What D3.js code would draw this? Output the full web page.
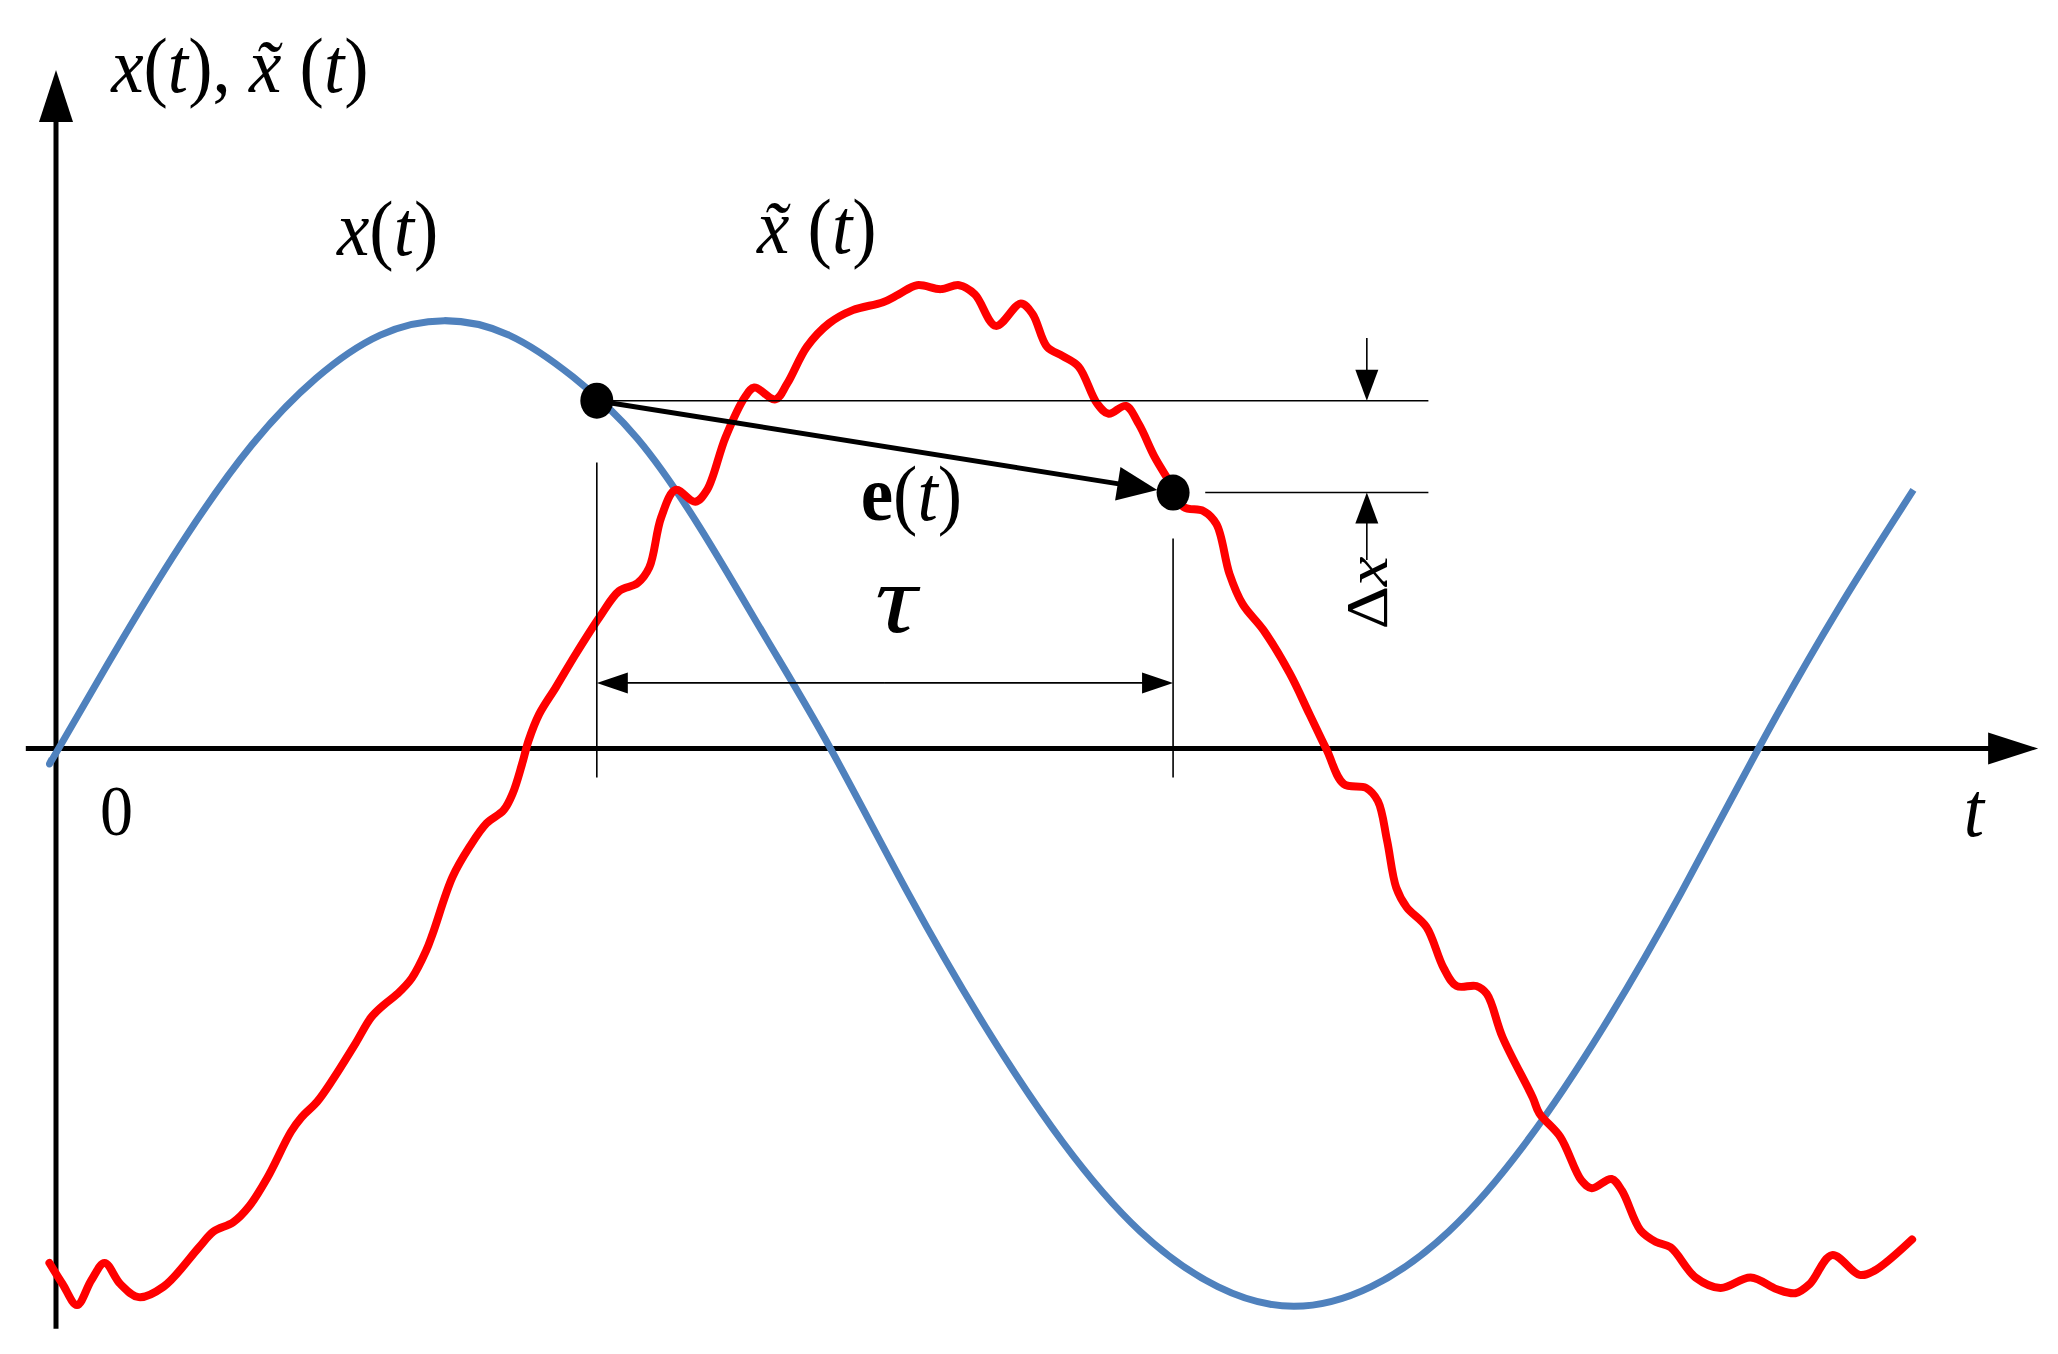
<!DOCTYPE html>
<html lang="en">
<head>
    <meta charset="UTF-8">
    <title>x(t) and its delayed noisy copy</title>
    <script src="https://d3js.org/d3.v7.min.js"></script>
    <style>
        body { margin: 0; background: #ffffff; }
        svg { display: block; }
        .label { font-family: 'Liberation Serif', 'Times New Roman', serif; fill: #000; }
        .thin { stroke: #000; stroke-width: 1.6px; fill: none; }
    </style>
</head>
<body>
    <div id="chart"></div>
    <script>
        // x(t): the clean signal
        const blueT = [-0.03, 0.02, 0.51, 1.00, 1.49, 1.98, 2.47, 2.96, 3.45, 3.94, 4.43, 4.92, 5.41, 5.90,
            6.49, 7.08, 7.67, 8.26, 8.85, 9.43, 10.02, 10.61, 11.20, 11.79, 12.38, 12.97, 13.57, 14.15];
        const blueX = [-0.08, 0.00, 0.84, 1.63, 2.31, 2.82, 3.15, 3.26, 3.15, 2.83, 2.36, 1.66, 0.84, 0.00,
            -1.10, -2.12, -3.00, -3.68, -4.10, -4.25, -4.10, -3.68, -3.00, -2.12, -1.10, 0.00, 1.05, 1.97];

        // x~(t): delayed, noisy estimate
        const redT = [-0.05, 0.05, 0.16, 0.27, 0.37, 0.49, 0.63, 0.82, 1.09, 1.20, 1.35, 1.47, 1.61, 1.79, 1.87, 1.99,
            2.11, 2.28, 2.40, 2.49, 2.60, 2.71, 2.82, 2.87, 3.02, 3.15, 3.28, 3.41, 3.48, 3.55, 3.60, 3.68,
            3.81, 3.96, 4.14, 4.29, 4.43, 4.52, 4.61, 4.72, 4.87, 4.96, 5.10, 5.25, 5.32, 5.48, 5.57, 5.72,
            5.89, 6.07, 6.30, 6.42, 6.56, 6.74, 6.88, 7.00, 7.16, 7.35, 7.44, 7.55, 7.67, 7.79, 7.93, 8.02,
            8.15, 8.25, 8.37, 8.49, 8.59, 8.74, 8.84, 8.94, 9.04, 9.20, 9.40, 9.55, 9.68, 9.81, 9.98, 10.07,
            10.14, 10.21, 10.29, 10.44, 10.57, 10.67, 10.82, 10.90, 11.02, 11.25, 11.30, 11.46, 11.62, 11.70, 11.85, 11.93,
            12.07, 12.19, 12.30, 12.49, 12.68, 12.91, 13.11, 13.25, 13.36, 13.53, 13.74, 13.85, 14.14];
        const redX = [-3.92, -4.08, -4.24, -4.05, -3.92, -4.08, -4.18, -4.10, -3.80, -3.68, -3.61, -3.49, -3.27, -2.92, -2.81, -2.69,
            -2.52, -2.25, -2.05, -1.96, -1.87, -1.75, -1.54, -1.41, -0.98, -0.75, -0.57, -0.47, -0.34, -0.12, 0.06, 0.26,
            0.47, 0.72, 1.00, 1.20, 1.26, 1.38, 1.76, 1.97, 1.88, 1.97, 2.37, 2.68, 2.75, 2.66, 2.78, 3.06,
            3.24, 3.34, 3.40, 3.46, 3.53, 3.50, 3.53, 3.46, 3.22, 3.39, 3.31, 3.06, 2.99, 2.91, 2.63, 2.55,
            2.61, 2.47, 2.22, 2.02, 1.84, 1.81, 1.71, 1.33, 1.10, 0.90, 0.57, 0.26, -0.01, -0.27, -0.30, -0.40,
            -0.70, -1.06, -1.21, -1.36, -1.67, -1.81, -1.81, -1.87, -2.20, -2.66, -2.78, -2.96, -3.29, -3.35, -3.28, -3.37,
            -3.67, -3.76, -3.80, -4.03, -4.11, -4.03, -4.12, -4.15, -4.08, -3.86, -4.01, -3.98, -3.74];

        // the two marked points: x(t) and x~(t + tau)
        const markT = [4.12, 8.51];
        const markX = [2.65, 1.95];

        const width = 2058, height = 1354;
        const svg = d3.select("#chart").append("svg")
            .attr("width", width)
            .attr("height", height);

        const x = d3.scaleLinear().domain([0, 15]).range([56, 2025]);
        const y = d3.scaleLinear().domain([-4.4, 5.2]).range([1326, 66]);

        // draws a line ending in a filled triangular head at (x2, y2)
        function arrow(g, x1, y1, x2, y2, w, len, half) {
            const dx = x2 - x1, dy = y2 - y1, L = Math.hypot(dx, dy);
            const ux = dx / L, uy = dy / L;
            const bx = x2 - ux * len, by = y2 - uy * len;
            g.append("line")
                .attr("x1", x1).attr("y1", y1)
                .attr("x2", bx + ux).attr("y2", by + uy)
                .attr("stroke", "#000").attr("stroke-width", w);
            g.append("path")
                .attr("d", `M${x2},${y2}L${bx - uy * half},${by + ux * half}L${bx + uy * half},${by - ux * half}Z`)
                .attr("fill", "#000");
        }

        // axes
        const axes = svg.append("g");
        arrow(axes, x(0), y(-4.42), x(0), y(5.17), 5, 52, 17);
        arrow(axes, x(-0.23), y(0), x(15.1), y(0), 5, 50, 16);

        // curves
        const smooth = d3.line()
            .x(d => x(d[0]))
            .y(d => y(d[1]))
            .curve(d3.curveNatural);
        const wiggly = d3.line()
            .x(d => x(d[0]))
            .y(d => y(d[1]))
            .curve(d3.curveCatmullRom.alpha(0.5));

        svg.append("path")
            .datum(blueT.map((t, i) => [t, blueX[i]]))
            .attr("d", smooth)
            .attr("fill", "none")
            .attr("stroke", "#4F81BD")
            .attr("stroke-width", 7);

        svg.append("path")
            .datum(redT.map((t, i) => [t, redX[i]]))
            .attr("d", wiggly)
            .attr("fill", "none")
            .attr("stroke", "#FF0000")
            .attr("stroke-width", 8)
            .attr("stroke-linejoin", "round")
            .attr("stroke-linecap", "round");

        // guide lines
        const guides = svg.append("g").attr("class", "thin");
        const hEnd = 10.455;
        guides.append("line").attr("x1", x(markT[0])).attr("x2", x(hEnd))
            .attr("y1", y(markX[0])).attr("y2", y(markX[0]));
        guides.append("line").attr("x1", x(8.755)).attr("x2", x(hEnd))
            .attr("y1", y(markX[1])).attr("y2", y(markX[1]));
        guides.append("line").attr("x1", x(markT[0])).attr("x2", x(markT[0]))
            .attr("y1", y(2.18)).attr("y2", y(-0.22));
        guides.append("line").attr("x1", x(markT[1])).attr("x2", x(markT[1]))
            .attr("y1", y(1.60)).attr("y2", y(-0.22));

        // tau span
        const ann = svg.append("g");
        const tauY = y(0.50), tauMid = (x(markT[0]) + x(markT[1])) / 2;
        arrow(ann, tauMid, tauY, x(markT[0]), tauY, 1.6, 31, 10.5);
        arrow(ann, tauMid, tauY, x(markT[1]), tauY, 1.6, 31, 10.5);

        // delta x arrows
        const dxT = 9.986;
        arrow(ann, x(dxT), y(3.128), x(dxT), y(markX[0]), 1.6, 31, 11.5);
        arrow(ann, x(dxT), y(1.436), x(dxT), y(markX[1]), 1.6, 31, 11.5);

        // e(t) vector
        {
            const ax = x(markT[0]), ay = y(markX[0]), bx = x(markT[1]), by = y(markX[1]);
            const L = Math.hypot(bx - ax, by - ay);
            const tx = bx - (bx - ax) / L * 16, ty = by - (by - ay) / L * 16;
            arrow(ann, ax, ay, tx, ty, 5, 40, 17);
        }

        svg.selectAll(".mark")
            .data(markT.map((t, i) => [t, markX[i]]))
            .enter().append("ellipse")
            .attr("class", "mark")
            .attr("cx", d => x(d[0]))
            .attr("cy", d => y(d[1]))
            .attr("rx", 16.5)
            .attr("ry", 18)
            .attr("fill", "#000");

        // labels; the source glyphs are a little taller than wide
        function label(t, v, size, parts, anchor, sx) {
            const g = svg.append("g")
                .attr("transform", `translate(${x(t)},${y(v)}) scale(${sx || 1},1.08)`);
            const txt = g.append("text").attr("class", "label")
                .style("font-size", size + "px")
                .attr("text-anchor", anchor || "start");
            parts.forEach(p => {
                const s = txt.append("tspan").text(p.s);
                if (p.i) s.style("font-style", "italic");
                if (p.b) s.style("font-weight", "bold");
            });
            return g;
        }

        const xTilde = { s: "x\u0303\u00A0", i: true };

        label(0.42, 5.0, 73, [
            { s: "x", i: true }, { s: "(" }, { s: "t", i: true }, { s: "),\u00A0" },
            xTilde, { s: "(" }, { s: "t", i: true }, { s: ")" }
        ]);
        label(2.14, 3.76, 73, [{ s: "x", i: true }, { s: "(" }, { s: "t", i: true }, { s: ")" }]);
        label(5.34, 3.775, 73, [xTilde, { s: "(" }, { s: "t", i: true }, { s: ")" }]);
        label(6.13, 1.74, 73, [{ s: "e", b: true }, { s: "(" }, { s: "t", i: true }, { s: ")" }]);
        label(6.24, 0.89, 90, [{ s: "\u03C4", i: true }], "start", 1.3);
        label(0.46, -0.66, 66, [{ s: "0" }], "middle");
        label(14.61, -0.67, 73, [{ s: "t", i: true }], "middle");

        svg.append("text").attr("class", "label")
            .attr("transform", `translate(${x(10.14)},${y(1.186)}) rotate(-90) scale(1.12,1)`)
            .attr("text-anchor", "middle")
            .style("font-size", "60px")
            .call(t => {
                t.append("tspan").text("\u0394");
                t.append("tspan").style("font-style", "italic").text("x");
            });
    </script>
</body>
</html>
